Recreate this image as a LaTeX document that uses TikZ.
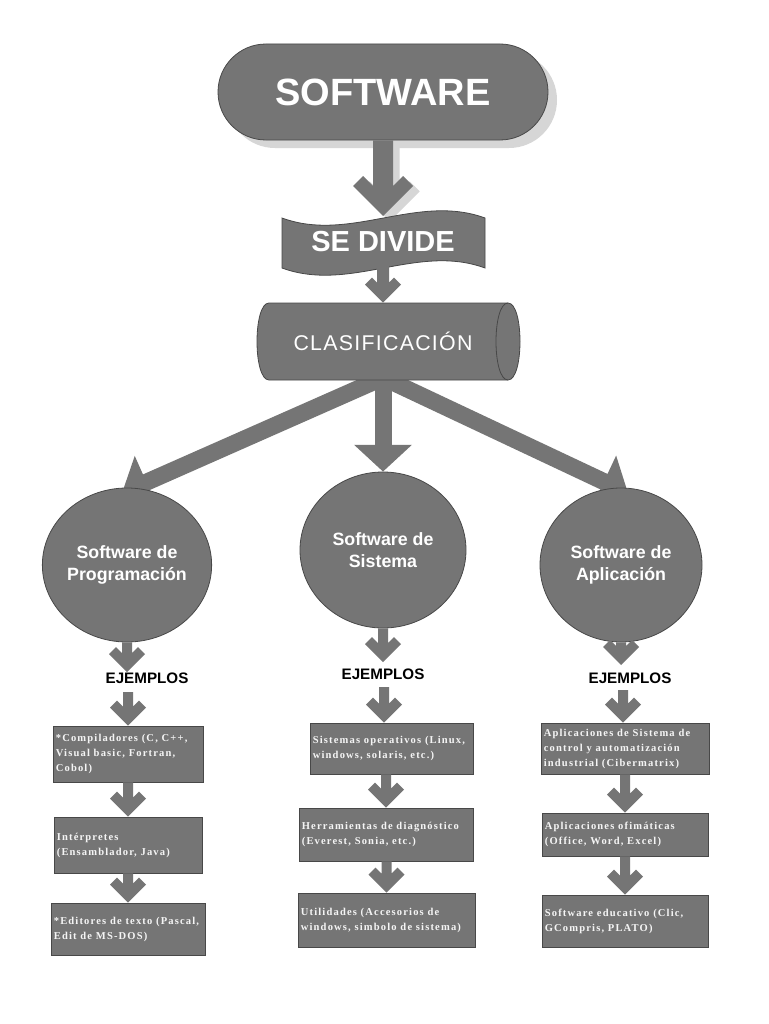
\documentclass[tikz,border=0pt]{standalone}
\usepackage{fontspec}
\setmainfont{Liberation Serif}
\setsansfont{Liberation Sans}
\newfontfamily\boxfont[LetterSpace=11]{Liberation Serif}
\newfontfamily\clasfont[LetterSpace=6]{Liberation Sans}
\usetikzlibrary{shapes.geometric,calc,arrows.meta,shadows}
\definecolor{shp}{RGB}{117,117,117}
\definecolor{edge}{RGB}{72,72,72}
\definecolor{shd}{RGB}{214,214,214}
\definecolor{txtw}{RGB}{245,245,245}
\pgfdeclarelayer{bg}
\pgfdeclarelayer{arr}
\pgfsetlayers{bg,arr,main}
% chevron arrow: [style]{source}{tip}{arm}{arm thickness}{half shaft}
\newcommand\chev[6][shp]{%
  \path (#2) coordinate (chS) (#3) coordinate (chT);
  \fill[#1] (chT) -- ++(#4,-#4) -- ++(-#5,-#5)
    -- ($(chT)+(#6,{-2*#5-#6})$) -- ($(chT|-chS)+(#6,0)$)
    -- ($(chT|-chS)+(-#6,0)$) -- ($(chT)+(-#6,{-2*#5-#6})$)
    -- ($(chT)+({-#4+#5},{-#4-#5})$) -- ($(chT)+(-#4,-#4)$) -- cycle;}
\begin{document}
\begin{tikzpicture}[x=0.75pt,y=-0.75pt,
  shapefill/.style={fill=shp,draw=edge,line width=0.6pt},
  circ/.style={ellipse,shapefill,text=white,align=center,inner sep=0pt,
    font=\sffamily\bfseries\fontsize{13.35}{16.5}\selectfont},
  ejem/.style={text=black,inner sep=0pt,font=\sffamily\bfseries\fontsize{11.4}{13}\selectfont},
  bx/.style={rectangle,shapefill,inner sep=0pt},
  bxt/.style={anchor=west,inner sep=0pt,text=txtw,align=left,
    font=\boxfont\bfseries\fontsize{7.9}{11.25}\selectfont},
  big/.style={draw=shp,line width=12.75pt,-{Triangle[length=20pt,width=42pt]}}]
\useasboundingbox (0,0) rectangle (768,1024);
\begin{pgfonlayer}{bg}
\fill[white] (0,0) rectangle (768,1024);
\end{pgfonlayer}

% SOFTWARE
\node[rectangle,rounded corners=36pt,minimum width=247.5pt,minimum height=72pt,
  shapefill,inner sep=0pt,
  drop shadow={shadow xshift=6.75pt,shadow yshift=-6pt,fill=shd,opacity=1},
  text=white,font=\sffamily\bfseries\fontsize{28.5}{30}\selectfont]
  (software) at (383,92) {SOFTWARE};
\coordinate (divtip) at (383,216);
\coordinate (divbot) at (383,266);
\begin{scope}[transform canvas={xshift=5pt,yshift=-4pt}]
\chev[shd]{software.south}{divtip}{30}{10}{10}
\end{scope}

% SE DIVIDE
\filldraw[shapefill] (282,218) .. controls (350,243) and (417,193) .. (485,218)
  -- (485,268) .. controls (417,243) and (350,293) .. (282,268) -- cycle;
\node[text=white,font=\sffamily\bfseries\fontsize{21.75}{24}\selectfont]
  (divide) at (383,242) {SE DIVIDE};
\chev{software.south}{divtip}{30}{10}{10}

% CLASIFICACION
\filldraw[shapefill] (269,303) -- (508,303) .. controls (524,303) and (524,380) .. (508,380)
  -- (269,380) .. controls (253,380) and (253,303) .. (269,303) -- cycle;
\draw[edge,line width=0.6pt] (508,303) .. controls (492,303) and (492,380) .. (508,380);
\node[minimum width=187.5pt,minimum height=57.75pt,inner sep=0pt,text=white,
  font=\clasfont\fontsize{16}{18}\selectfont] (clasif) at (383,341.5) {CLASIFICACIÓN};
\chev{divbot}{clasif.north}{18}{7}{6}

% circles
\node[circ,minimum width=120pt,minimum height=115.5pt] (cprog) at (127,565) {Software de\\Programación};
\node[circ,minimum width=124.5pt,minimum height=117pt] (csist) at (383,550) {Software de\\Sistema};
\node[circ,minimum width=121.5pt,minimum height=115.5pt] (capl) at (621,565) {Software de\\Aplicación};

% big arrows
\coordinate (lsrc) at (380,379);
\coordinate (ltip) at (122,493);
\coordinate (rsrc) at (386,379);
\coordinate (rtip) at (628,493);
\begin{pgfonlayer}{arr}
\draw[big] (lsrc) -- (ltip);
\draw[big] (clasif.south) -- (csist.north);
\draw[big] (rsrc) -- (rtip);
\end{pgfonlayer}

% EJEMPLOS
\node[ejem] (ej1) at (147,678) {EJEMPLOS};
\node[ejem] (ej2) at (383,674) {EJEMPLOS};
\node[ejem] (ej3) at (630,678) {EJEMPLOS};
\coordinate (e1tip) at (127,672);
\coordinate (e1src) at (127,692);
\coordinate (e2tip) at (383,662);
\coordinate (e2src) at (384,687);
\coordinate (e3tip) at (621,665);
\coordinate (e3src) at (623,690);

% boxes
\node[bx,minimum width=112.5pt,minimum height=42pt] (b11) at (128,754) {};
\node[bx,minimum width=111pt,minimum height=42pt] (b12) at (128,845) {};
\node[bx,minimum width=115.5pt,minimum height=39pt] (b13) at (128,929) {};
\node[bx,minimum width=122.25pt,minimum height=38.25pt] (b21) at (391.5,748.5) {};
\node[bx,minimum width=130.5pt,minimum height=39.75pt] (b22) at (386,834.5) {};
\node[bx,minimum width=132.75pt,minimum height=40.5pt] (b23) at (386.5,920) {};
\node[bx,minimum width=126pt,minimum height=38.25pt] (b31) at (625,748.5) {};
\node[bx,minimum width=124.5pt,minimum height=32.25pt] (b32) at (625,834.5) {};
\node[bx,minimum width=124.5pt,minimum height=39pt] (b33) at (625,921) {};

\node[bxt] (t11) at ([xshift=2.25pt]b11.west) {*Compiladores (C, C++,\\Visual basic, Fortran,\\Cobol)};
\node[bxt] (t12) at ([xshift=2.25pt]b12.west) {Intérpretes\\(Ensamblador, Java)};
\node[bxt] (t13) at ([xshift=2.25pt]b13.west) {*Editores de texto (Pascal,\\Edit de MS-DOS)};
\node[bxt] (t21) at ([xshift=2.25pt]b21.west) {Sistemas operativos (Linux,\\windows, solaris, etc.)};
\node[bxt] (t22) at ([xshift=2.25pt]b22.west) {Herramientas de diagnóstico\\(Everest, Sonia, etc.)};
\node[bxt] (t23) at ([xshift=2.25pt]b23.west) {Utilidades (Accesorios de\\windows, simbolo de sistema)};
\node[bxt] (t31) at ([xshift=2.25pt]b31.west) {Aplicaciones de Sistema de\\control y automatización\\industrial (Cibermatrix)};
\node[bxt] (t32) at ([xshift=2.25pt]b32.west) {Aplicaciones ofimáticas\\(Office, Word, Excel)};
\node[bxt] (t33) at ([xshift=2.25pt]b33.west) {Software educativo (Clic,\\GCompris, PLATO)};

% chevrons in columns
\chev{cprog.south}{e1tip}{18}{7}{5}
\chev{e1src}{b11.north}{18}{7}{5}
\chev{b11.south}{b12.north}{18}{7}{5}
\chev{b12.south}{b13.north}{18}{7}{5}
\chev{csist.south}{e2tip}{18}{7}{5}
\chev{e2src}{b21.north -| e2src}{18}{7}{5}
\chev{b21.south}{b22.north}{18}{7}{5}
\chev{b22.south}{b23.north}{18}{7}{5}
\chev{capl.south}{e3tip}{18}{7}{5}
\chev{e3src}{b31.north -| e3src}{18}{7}{5}
\chev{b31.south}{b32.north}{18}{7}{5}
\chev{b32.south}{b33.north}{18}{7}{5}
\end{tikzpicture}
\end{document}
